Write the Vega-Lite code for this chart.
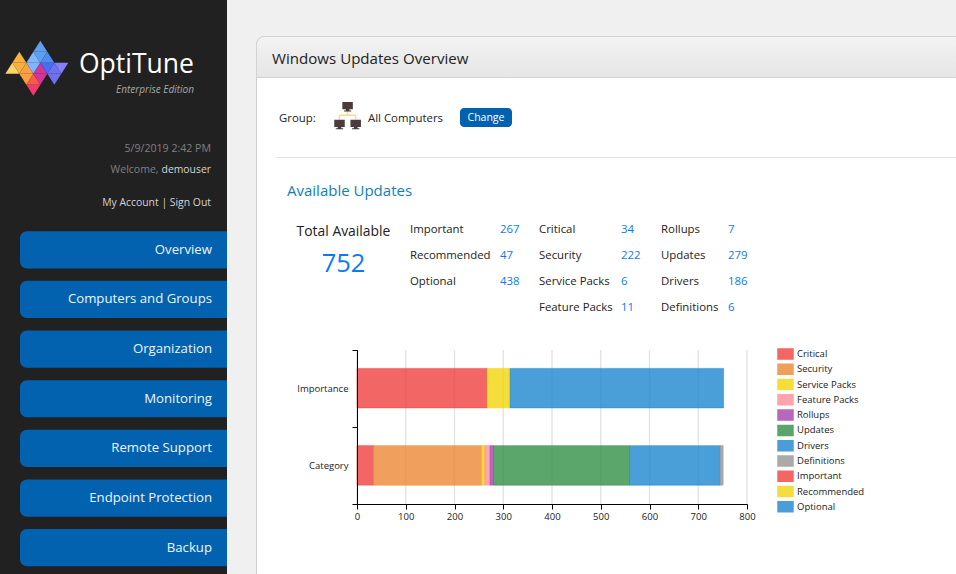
{
  "$schema": "https://vega.github.io/schema/vega-lite/v6.json",
  "width": 956,
  "height": 574,
  "autosize": "none",
  "padding": 0,
  "background": "#f0f0f0",
  "config": {
    "font": "Open Sans",
    "view": {"stroke": null},
    "text": {"baseline": "middle", "color": "#222222"}
  },
  "resolve": {"scale": {"x": "independent", "y": "independent", "color": "independent", "stroke": "independent", "shape": "independent"}},
  "layer": [
    {
      "data": {"values": [{"panel": "sidebar"}]},
      "mark": {"type": "rect", "color": "#212121"},
      "encoding": {
        "x": {"datum": 0, "type": "quantitative", "scale": {"domain": [0, 1], "range": [0, 227]}, "axis": null},
        "x2": {"datum": 1},
        "y": {"datum": 0, "type": "quantitative", "scale": {"domain": [0, 1], "range": [0, 574]}, "axis": null},
        "y2": {"datum": 1}
      }
    },
    {
      "data": {"values": [
        {"col": 5, "row": 1, "dir": "up", "tone": "sky"},
        {"col": 2, "row": 2, "dir": "up", "tone": "amber"},
        {"col": 4, "row": 2, "dir": "up", "tone": "pale"},
        {"col": 5, "row": 2, "dir": "down", "tone": "sky"},
        {"col": 6, "row": 2, "dir": "up", "tone": "azure"},
        {"col": 1, "row": 3, "dir": "up", "tone": "yellow"},
        {"col": 2, "row": 3, "dir": "down", "tone": "amber"},
        {"col": 3, "row": 3, "dir": "up", "tone": "orange"},
        {"col": 4, "row": 3, "dir": "down", "tone": "pale"},
        {"col": 5, "row": 3, "dir": "up", "tone": "magenta"},
        {"col": 6, "row": 3, "dir": "down", "tone": "indigo"},
        {"col": 7, "row": 3, "dir": "up", "tone": "violet"},
        {"col": 8, "row": 3, "dir": "down", "tone": "lilac"},
        {"col": 3, "row": 4, "dir": "down", "tone": "orange"},
        {"col": 4, "row": 4, "dir": "up", "tone": "coral"},
        {"col": 5, "row": 4, "dir": "down", "tone": "magenta"},
        {"col": 7, "row": 4, "dir": "down", "tone": "violet"},
        {"col": 4, "row": 5, "dir": "down", "tone": "rose"}
      ]},
      "mark": {"type": "point", "filled": true, "opacity": 1, "size": 121},
      "encoding": {
        "x": {"field": "col", "type": "quantitative", "scale": {"domain": [0, 10], "range": [5.33, 75.33]}, "axis": null},
        "y": {"field": "row", "type": "quantitative", "scale": {"domain": [1, 5], "range": [46.2, 90.2]}, "axis": null},
        "shape": {"field": "dir", "type": "nominal", "legend": null, "scale": {"domain": ["up", "down"], "range": ["M0,-1L1.27,1L-1.27,1Z", "M0,1L1.27,-1L-1.27,-1Z"]}},
        "color": {"field": "tone", "type": "nominal", "legend": null, "scale": {
          "domain": ["sky", "amber", "pale", "azure", "yellow", "orange", "magenta", "indigo", "violet", "lilac", "coral", "rose"],
          "range": ["#5f9fee", "#f8b03e", "#7db7fa", "#4f8cf0", "#fdd566", "#fb9f42", "#d0359a", "#4a6cf5", "#6f70ee", "#8480fb", "#fb5a4a", "#f53a6a"]
        }}
      }
    },
    {
      "data": {"values": [{"label": "OptiTune"}]},
      "mark": {"type": "text", "align": "left", "fontSize": 26.5, "color": "#ffffff"},
      "encoding": {
        "text": {"field": "label"},
        "x": {"datum": 0, "type": "quantitative", "scale": {"domain": [0, 1], "range": [79, 80]}, "axis": null},
        "y": {"datum": 0, "type": "quantitative", "scale": {"domain": [0, 1], "range": [65, 66]}, "axis": null}
      }
    },
    {
      "data": {"values": [{"label": "Enterprise Edition"}]},
      "mark": {"type": "text", "align": "right", "fontSize": 10, "fontStyle": "italic", "color": "#a8a8a8"},
      "encoding": {
        "text": {"field": "label"},
        "x": {"datum": 0, "type": "quantitative", "scale": {"domain": [0, 1], "range": [194, 195]}, "axis": null},
        "y": {"datum": 0, "type": "quantitative", "scale": {"domain": [0, 1], "range": [89.5, 90.5]}, "axis": null}
      }
    },
    {
      "data": {"values": [{"label": "5/9/2019 2:42 PM"}]},
      "mark": {"type": "text", "align": "right", "fontSize": 10.6, "color": "#808080"},
      "encoding": {
        "text": {"field": "label"},
        "x": {"datum": 0, "type": "quantitative", "scale": {"domain": [0, 1], "range": [211, 212]}, "axis": null},
        "y": {"datum": 0, "type": "quantitative", "scale": {"domain": [0, 1], "range": [149, 150]}, "axis": null}
      }
    },
    {
      "data": {"values": [{"label": "Welcome,"}]},
      "mark": {"type": "text", "align": "right", "fontSize": 10.5, "color": "#808080"},
      "encoding": {
        "text": {"field": "label"},
        "x": {"datum": 0, "type": "quantitative", "scale": {"domain": [0, 1], "range": [158.5, 159.5]}, "axis": null},
        "y": {"datum": 0, "type": "quantitative", "scale": {"domain": [0, 1], "range": [169.5, 170.5]}, "axis": null}
      }
    },
    {
      "data": {"values": [{"label": "demouser", "line": 1}, {"label": "My Account | Sign Out", "line": 2}]},
      "mark": {"type": "text", "align": "right", "fontSize": 10.4, "color": "#d4d4d4"},
      "encoding": {
        "text": {"field": "label"},
        "x": {"datum": 0, "type": "quantitative", "scale": {"domain": [0, 1], "range": [211, 212]}, "axis": null},
        "y": {"field": "line", "type": "quantitative", "scale": {"domain": [1, 2], "range": [169.5, 202.5]}, "axis": null}
      }
    },
    {
      "data": {"values": [
        {"item": "Overview"},
        {"item": "Computers and Groups"},
        {"item": "Organization"},
        {"item": "Monitoring"},
        {"item": "Remote Support"},
        {"item": "Endpoint Protection"},
        {"item": "Backup"}
      ]},
      "encoding": {
        "y": {"field": "item", "type": "nominal", "sort": null, "axis": null, "scale": {"range": [225, 572.5], "paddingInner": 0.25, "paddingOuter": 0.125}}
      },
      "resolve": {"scale": {"x": "independent"}},
      "layer": [
        {
          "mark": {"type": "bar", "color": "#0362b0", "cornerRadiusTopLeft": 7, "cornerRadiusBottomLeft": 7},
          "encoding": {
            "x": {"datum": 0, "type": "quantitative", "scale": {"domain": [0, 1], "range": [20, 227]}, "axis": null},
            "x2": {"datum": 1}
          }
        },
        {
          "mark": {"type": "text", "align": "right", "fontSize": 13.2, "color": "#eef4fa"},
          "encoding": {
            "text": {"field": "item"},
            "x": {"datum": 1, "type": "quantitative", "scale": {"domain": [0, 1], "range": [20, 212]}, "axis": null}
          }
        }
      ]
    },
    {
      "data": {"values": [{"panel": "card"}]},
      "mark": {"type": "rect", "color": "#ffffff", "stroke": "#cfcfcf", "strokeWidth": 1, "cornerRadiusTopLeft": 8},
      "encoding": {
        "x": {"datum": 0, "type": "quantitative", "scale": {"domain": [0, 1], "range": [256.5, 970]}, "axis": null},
        "x2": {"datum": 1},
        "y": {"datum": 0, "type": "quantitative", "scale": {"domain": [0, 1], "range": [36.5, 590]}, "axis": null},
        "y2": {"datum": 1}
      }
    },
    {
      "data": {"values": [{"panel": "header"}]},
      "mark": {
        "type": "rect",
        "stroke": "#d2d2d2",
        "strokeWidth": 1,
        "cornerRadiusTopLeft": 8,
        "color": {"gradient": "linear", "x1": 0, "x2": 0, "y1": 0, "y2": 1, "stops": [{"offset": 0, "color": "#f3f3f3"}, {"offset": 1, "color": "#e6e6e6"}]}
      },
      "encoding": {
        "x": {"datum": 0, "type": "quantitative", "scale": {"domain": [0, 1], "range": [256.5, 970]}, "axis": null},
        "x2": {"datum": 1},
        "y": {"datum": 0, "type": "quantitative", "scale": {"domain": [0, 1], "range": [36.5, 77.5]}, "axis": null},
        "y2": {"datum": 1}
      }
    },
    {
      "data": {"values": [{"label": "Windows Updates Overview"}]},
      "mark": {"type": "text", "align": "left", "fontSize": 15.1, "color": "#222222"},
      "encoding": {
        "text": {"field": "label"},
        "x": {"datum": 0, "type": "quantitative", "scale": {"domain": [0, 1], "range": [272, 273]}, "axis": null},
        "y": {"datum": 0, "type": "quantitative", "scale": {"domain": [0, 1], "range": [59, 60]}, "axis": null}
      }
    },
    {
      "data": {"values": [{"label": "Group:", "slot": "a"}, {"label": "All Computers", "slot": "b"}]},
      "mark": {"type": "text", "align": "left", "fontSize": 11.4, "color": "#222222"},
      "encoding": {
        "text": {"field": "label"},
        "x": {"field": "slot", "type": "nominal", "axis": null, "scale": {"domain": ["a", "b"], "range": [279, 368], "padding": 0}},
        "y": {"datum": 0, "type": "quantitative", "scale": {"domain": [0, 1], "range": [118.5, 119.5]}, "axis": null}
      }
    },
    {
      "data": {"values": [
        {"node": "server", "column": "centre", "tier": "root"},
        {"node": "pc1", "column": "left", "tier": "leaf"},
        {"node": "pc2", "column": "right", "tier": "leaf"},
        {"node": "link", "column": "centre", "tier": "link"}
      ]},
      "encoding": {
        "x": {"field": "column", "type": "nominal", "axis": null, "scale": {"domain": ["left", "centre", "right"], "range": [339.5, 355.7], "padding": 0}},
        "y": {"field": "tier", "type": "nominal", "axis": null, "scale": {"domain": ["root", "link", "leaf"], "range": [106.3, 124], "padding": 0}}
      },
      "layer": [
        {
          "transform": [{"filter": "datum.node == 'link'"}],
          "mark": {"type": "point", "filled": false, "opacity": 1, "stroke": "#f8dd88", "strokeWidth": 1.5, "size": 262, "shape": "M0,-0.55V0M-1,0H1M-1,0V0.55M1,0V0.55"}
        },
        {
          "transform": [{"filter": "datum.node != 'link'"}],
          "mark": {"type": "point", "filled": true, "opacity": 1, "color": "#4b3b3c", "size": 110, "shape": "M-1,-0.8H1V0.55H0.35V0.8H0.7V1H-0.7V0.8H-0.35V0.55H-1Z"}
        }
      ]
    },
    {
      "data": {"values": [{"label": "Change"}]},
      "encoding": {
        "x": {"datum": 0, "type": "quantitative", "scale": {"domain": [0, 1], "range": [460, 512]}, "axis": null},
        "y": {"datum": 0, "type": "quantitative", "scale": {"domain": [0, 1], "range": [108, 127]}, "axis": null}
      },
      "layer": [
        {
          "mark": {"type": "rect", "color": "#0362b0", "cornerRadius": 4},
          "encoding": {"x2": {"datum": 1}, "y2": {"datum": 1}}
        },
        {
          "mark": {"type": "text", "align": "center", "fontSize": 10.5, "color": "#ffffff"},
          "encoding": {
            "text": {"field": "label"},
            "x": {"datum": 0.5, "type": "quantitative"},
            "y": {"datum": 0.5, "type": "quantitative"}
          }
        }
      ]
    },
    {
      "data": {"values": [{"panel": "divider"}]},
      "mark": {"type": "rule", "color": "#e0e0e0", "strokeWidth": 1},
      "encoding": {
        "x": {"datum": 0, "type": "quantitative", "scale": {"domain": [0, 1], "range": [277, 956]}, "axis": null},
        "x2": {"datum": 1},
        "y": {"datum": 0, "type": "quantitative", "scale": {"domain": [0, 1], "range": [157.5, 158.5]}, "axis": null}
      }
    },
    {
      "data": {"values": [{"label": "Available Updates"}]},
      "mark": {"type": "text", "align": "left", "fontSize": 15, "color": "#0f7fbd"},
      "encoding": {
        "text": {"field": "label"},
        "x": {"datum": 0, "type": "quantitative", "scale": {"domain": [0, 1], "range": [287, 288]}, "axis": null},
        "y": {"datum": 0, "type": "quantitative", "scale": {"domain": [0, 1], "range": [190.5, 191.5]}, "axis": null}
      }
    },
    {
      "data": {"values": [{"label": "Total Available"}]},
      "mark": {"type": "text", "align": "center", "fontSize": 13.9, "color": "#222222"},
      "encoding": {
        "text": {"field": "label"},
        "x": {"datum": 0, "type": "quantitative", "scale": {"domain": [0, 1], "range": [343.5, 344.5]}, "axis": null},
        "y": {"datum": 0, "type": "quantitative", "scale": {"domain": [0, 1], "range": [231.5, 232.5]}, "axis": null}
      }
    },
    {
      "data": {"values": [{"total": 752}]},
      "mark": {"type": "text", "align": "center", "fontSize": 25.5, "color": "#0a7cf0"},
      "encoding": {
        "text": {"field": "total", "type": "quantitative"},
        "x": {"datum": 0, "type": "quantitative", "scale": {"domain": [0, 1], "range": [343.5, 344.5]}, "axis": null},
        "y": {"datum": 0, "type": "quantitative", "scale": {"domain": [0, 1], "range": [264, 265]}, "axis": null}
      }
    },
    {
      "data": {"name": "stats", "values": [
        {"label": "Important", "amount": 267, "col": 1, "row": 1},
        {"label": "Recommended", "amount": 47, "col": 1, "row": 2},
        {"label": "Optional", "amount": 438, "col": 1, "row": 3},
        {"label": "Critical", "amount": 34, "col": 2, "row": 1},
        {"label": "Security", "amount": 222, "col": 2, "row": 2},
        {"label": "Service Packs", "amount": 6, "col": 2, "row": 3},
        {"label": "Feature Packs", "amount": 11, "col": 2, "row": 4},
        {"label": "Rollups", "amount": 7, "col": 3, "row": 1},
        {"label": "Updates", "amount": 279, "col": 3, "row": 2},
        {"label": "Drivers", "amount": 186, "col": 3, "row": 3},
        {"label": "Definitions", "amount": 6, "col": 3, "row": 4}
      ]},
      "mark": {"type": "text", "align": "left", "fontSize": 11.4, "color": "#222222"},
      "encoding": {
        "text": {"field": "label"},
        "x": {"field": "col", "type": "quantitative", "axis": null, "scale": {"domain": [1, 2, 3], "range": [410, 539, 661]}},
        "y": {"field": "row", "type": "quantitative", "axis": null, "scale": {"domain": [1, 4], "range": [229.5, 307.5]}}
      }
    },
    {
      "data": {"name": "stats"},
      "mark": {"type": "text", "align": "left", "fontSize": 11.4, "color": "#0a7cf0"},
      "encoding": {
        "text": {"field": "amount", "type": "quantitative"},
        "x": {"field": "col", "type": "quantitative", "axis": null, "scale": {"domain": [1, 2, 3], "range": [500, 621, 728]}},
        "y": {"field": "row", "type": "quantitative", "axis": null, "scale": {"domain": [1, 4], "range": [229.5, 307.5]}}
      }
    },
    {
      "data": {"values": [{"tick": 0}, {"tick": 100}, {"tick": 200}, {"tick": 300}, {"tick": 400}, {"tick": 500}, {"tick": 600}, {"tick": 700}, {"tick": 800}]},
      "mark": {"type": "rule", "color": "#e2e2e2", "strokeWidth": 1.3},
      "encoding": {
        "x": {"field": "tick", "type": "quantitative", "axis": null, "scale": {"domain": [0, 800], "range": [357, 747]}},
        "y": {"datum": 0, "type": "quantitative", "axis": null, "scale": {"domain": [0, 1], "range": [350, 504]}},
        "y2": {"datum": 1}
      }
    },
    {
      "data": {"values": [
        {"group": "Importance", "kind": "Important", "count": 267, "seq": 1},
        {"group": "Importance", "kind": "Recommended", "count": 47, "seq": 2},
        {"group": "Importance", "kind": "Optional", "count": 438, "seq": 3},
        {"group": "Category", "kind": "Critical", "count": 34, "seq": 1},
        {"group": "Category", "kind": "Security", "count": 222, "seq": 2},
        {"group": "Category", "kind": "Service Packs", "count": 6, "seq": 3},
        {"group": "Category", "kind": "Feature Packs", "count": 11, "seq": 4},
        {"group": "Category", "kind": "Rollups", "count": 7, "seq": 5},
        {"group": "Category", "kind": "Updates", "count": 279, "seq": 6},
        {"group": "Category", "kind": "Drivers", "count": 186, "seq": 7},
        {"group": "Category", "kind": "Definitions", "count": 6, "seq": 8}
      ]},
      "mark": {"type": "bar", "height": 39.5, "fillOpacity": 0.8, "strokeOpacity": 0.5, "strokeWidth": 1},
      "encoding": {
        "x": {
          "field": "count",
          "type": "quantitative",
          "stack": "zero",
          "scale": {"domain": [0, 800], "range": [357, 747]},
          "axis": {"orient": "bottom", "offset": -70, "title": null, "grid": false, "zindex": 1, "values": [0, 100, 200, 300, 400, 500, 600, 700, 800], "labelFlush": false, "domainColor": "#000000", "tickColor": "#000000", "tickSize": 5, "labelFontSize": 9.5, "labelColor": "#222222", "labelPadding": 2}
        },
        "y": {
          "field": "group",
          "type": "nominal",
          "scale": {"domain": ["Importance", "Category"], "range": [349.5, 504], "padding": 0},
          "axis": {"orient": "left", "offset": -357, "title": null, "grid": false, "zindex": 1, "tickBand": "extent", "domainColor": "#000000", "tickColor": "#000000", "tickSize": 5, "labelFontSize": 9.5, "labelColor": "#222222", "labelPadding": 4}
        },
        "order": {"field": "seq", "type": "quantitative"},
        "color": {
          "field": "kind",
          "type": "nominal",
          "scale": {
            "domain": ["Critical", "Security", "Service Packs", "Feature Packs", "Rollups", "Updates", "Drivers", "Definitions", "Important", "Recommended", "Optional"],
            "range": ["#f04040", "#ec8833", "#f3d60b", "#ff8e98", "#a542af", "#319046", "#1d87ce", "#959595", "#f04040", "#f3d60b", "#1d87ce"]
          },
          "legend": {"orient": "none", "legendX": 779.5, "legendY": 348, "title": null, "symbolType": "M-1.5,-1H1.5V1H-1.5Z", "symbolSize": 100, "symbolOpacity": 0.8, "labelFontSize": 9.5, "labelColor": "#222222", "labelOffset": 5.5, "rowPadding": -0.72, "padding": 0}
        },
        "stroke": {
          "field": "kind",
          "type": "nominal",
          "scale": {
            "domain": ["Critical", "Security", "Service Packs", "Feature Packs", "Rollups", "Updates", "Drivers", "Definitions", "Important", "Recommended", "Optional"],
            "range": ["#f04040", "#ec8833", "#f3d60b", "#ff8e98", "#a542af", "#319046", "#1d87ce", "#959595", "#f04040", "#f3d60b", "#1d87ce"]
          },
          "legend": {"orient": "none", "legendX": 779.5, "legendY": 348, "title": null, "symbolType": "M-1.5,-1H1.5V1H-1.5Z", "symbolSize": 100, "symbolOpacity": 0.8, "labelFontSize": 9.5, "labelColor": "#222222", "labelOffset": 5.5, "rowPadding": -0.72, "padding": 0}
        }
      }
    }
  ]
}
